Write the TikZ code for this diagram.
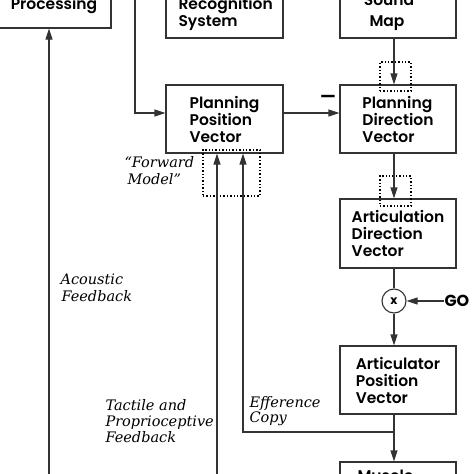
\documentclass[tikz,border=0pt]{standalone}
\usepackage{fontspec}
\newfontfamily\boxfont{Poppins}[UprightFont={* SemiBold},BoldFont={* Bold}]
\newfontfamily\labfont{DejaVu Serif}
\usetikzlibrary{arrows.meta,calc}
\begin{document}
\begin{tikzpicture}[x=1pt,y=-1pt,
  line width=1.1pt,
  ln/.style={draw=black!80,line width=1.1pt},
  arr/.style={ln,-{Triangle[length=11pt,width=7pt]}},
  box/.style={draw=black!80,line width=1.1pt,inner sep=0pt,align=left,
    font=\boxfont\fontsize{15.5}{17}\selectfont},
  btxt/.style={inner sep=0pt,font=\boxfont\fontsize{15.5}{17}\selectfont},
  dotbox/.style={draw=black,dotted,line width=1.4pt,inner sep=0pt},
  lab/.style={inner sep=0pt,align=left,font=\labfont\itshape\fontsize{14.5}{16}\selectfont},
  mult/.style={circle,draw=black!80,line width=1.1pt,minimum size=24pt,inner sep=0pt,
    font=\boxfont\bfseries\fontsize{12}{12}\selectfont}
]
\useasboundingbox (0,0) rectangle (474,474);
\clip (0,0) rectangle (474,474);
% partial top boxes
\node[box,minimum width=131pt,minimum height=64pt] (proc) at (45.5,-4) {};
\node[btxt,anchor=base] (proct) at (54,9) {Processing};
\node[box,minimum width=117pt,minimum height=84pt] (rec) at (224.5,-4) {};
\node[btxt,anchor=base west] (rect1) at (178,9) {Recognition};
\node[btxt,anchor=base west] (rect2) at (178,26) {System};
\node[box,minimum width=116pt,minimum height=84pt] (sm) at (398,-4) {};
\node[btxt,anchor=base] (smt1) at (389,5) {Sound};
\node[btxt,anchor=base] (smt2) at (387,26) {Map};
% full boxes
\node[box,minimum width=117pt,minimum height=68pt] (ppv) at (224.5,119) {Planning\\Position\\Vector};
\node[box,minimum width=116pt,minimum height=68pt] (pdv) at (398,119) {Planning\\Direction\\Vector};
\node[box,minimum width=116pt,minimum height=69pt] (adv) at (398,233.5) {Articulation\\Direction\\Vector};
\node[mult] (mx) at (394,301) {x};
\node[btxt,font=\boxfont\bfseries\fontsize{16}{16}\selectfont,anchor=west] (go) at (444,301) {GO};
\node[box,minimum width=116pt,minimum height=68pt] (apv) at (398,380) {Articulator\\Position\\Vector};
\node[box,minimum width=116pt,minimum height=68pt] (mus) at (398,496) {};
\node[btxt,anchor=base west] (must) at (357,481) {Muscle};
% dotted boxes
\node[dotbox,minimum width=31pt,minimum height=29pt] (d1) at (395.5,76.5) {};
\node[dotbox,minimum width=31pt,minimum height=30pt] (d2) at (395.5,191) {};
\node[dotbox,minimum width=57pt,minimum height=46pt] (d3) at (231.5,173) {};
% coordinates
\coordinate (br) at (135,-4);
\coordinate (h113) at (0,113);
\coordinate (af) at (49,480);
\coordinate (tf) at (217,480);
\coordinate (ec) at (394,432);
\coordinate (ecl) at (243,432);
% connectors
\draw[arr] (proc.east) -- (rec.west);
\draw[arr] (rec.east) -- (sm.west);
\draw[arr] (br) -- (br |- h113) -- (ppv.west |- h113);
\draw[arr] (ppv.east |- h113) -- (pdv.west |- h113);
\node[btxt,font=\boxfont\bfseries\fontsize{17}{17}\selectfont] (minus) at (328,99) {—};
\draw[arr] (sm.south -| mx) -- (pdv.north -| mx);
\draw[arr] (pdv.south -| mx) -- (adv.north -| mx);
\draw[ln] (adv.south -| mx) -- (mx.north);
\draw[arr] (go.west) -- (mx.east);
\draw[arr] (mx.south) -- (apv.north -| mx);
\draw[arr] (apv.south -| mx) -- (mus.north -| mx);
\draw[arr] (ec) -- (ecl) -- (ppv.south -| ecl);
\draw[arr] (af) -- (proc.south -| af);
\draw[arr] (tf) -- (ppv.south -| tf);
% labels
\node[lab,anchor=base west] (fm1) at (124,167) {“Forward};
\node[lab,anchor=base west] (fm2) at (127,184) {Model”};
\node[lab,anchor=base west] (acl1) at (60,284) {Acoustic};
\node[lab,anchor=base west] (acl2) at (61,301) {Feedback};
\node[lab,anchor=base west] (tp1) at (105,410) {Tactile and};
\node[lab,anchor=base west] (tp2) at (105,426) {Proprioceptive};
\node[lab,anchor=base west] (tp3) at (105,442) {Feedback};
\node[lab,anchor=base west] (ef1) at (249,407) {Efference};
\node[lab,anchor=base west] (ef2) at (249,422) {Copy};
\end{tikzpicture}
\end{document}
